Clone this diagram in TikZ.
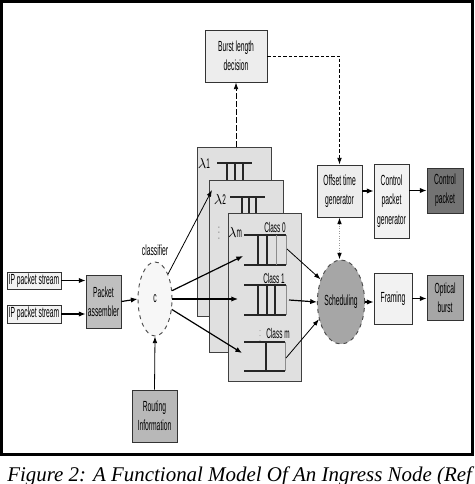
\documentclass[tikz,border=0pt]{standalone}
\usepackage{fontspec}
\setmainfont{Liberation Serif}
\newfontfamily\nar[FakeStretch=0.46]{Liberation Sans}
\usetikzlibrary{arrows.meta,shapes.geometric}
\begin{document}
\begin{tikzpicture}[x=0.75pt,y=-0.75pt,
  lbl/.style={font=\nar\fontsize{11}{14.5}\selectfont, align=center, inner sep=0pt},
  box/.style={lbl, draw=black!80, line width=0.7pt, rectangle},
  arr/.style={-{Latex[length=5pt,width=4pt]}, line width=0.9pt},
  thinarr/.style={-{Latex[length=5pt,width=3.5pt]}, line width=0.6pt},
  panel/.style={draw=black!75, fill=black!12, line width=0.7pt, inner sep=0pt},
  qline/.style={line width=0.8pt, black!85},
  qend/.style={line width=0.6pt, black!45},
  small/.style={font=\nar\fontsize{10.5}{12}\selectfont, inner sep=0pt},
]
\useasboundingbox (0,0) rectangle (474,484);
\draw[line width=2.25pt] (1.5,1.5) rectangle (472.5,454.5);

% top boxes
\node[box, fill=black!7, minimum width=46.5pt, minimum height=39pt] (burst) at (236,56) {Burst length\\decision};
\node[box, fill=black!7, minimum width=33.75pt, minimum height=39pt] (off) at (339.5,191) {Offset time\\generator};
\node[box, fill=black!5, minimum width=26.25pt, minimum height=55.5pt] (cpg) at (391.5,201) {Control\\packet\\generator};
\node[box, fill=black!55, minimum width=27pt, minimum height=33.75pt] (cp) at (445,190.5) {Control\\packet};

% scheduling, framing, optical burst
\node[lbl, ellipse, draw=black!70, dashed, fill=black!35, line width=0.7pt, minimum width=27pt, minimum height=63pt] (sched) at (341,302) {Scheduling};
\node[box, fill=black!5, minimum width=28.5pt, minimum height=38.25pt] (fr) at (393,298.5) {Framing};
\node[box, fill=black!35, minimum width=27pt, minimum height=33.75pt] (opt) at (445,297.5) {Optical\\burst};

% lambda 1 panel
\node[panel, minimum width=55.5pt, minimum height=126.75pt] (p1) at (234,231.5) {};
\node[small] (l1) at (204,163) {$\lambda$1};
\draw[qline] (217,163) -- (252,163);
\foreach \x in {227,235,243} \draw[qline] (\x,163) -- (\x,190);

% lambda 2 panel
\node[panel, minimum width=55.5pt, minimum height=129pt] (p2) at (246,266) {};
\node[small] (l2) at (220,199) {$\lambda$2};
\draw[qline] (230,197) -- (265,197);
\foreach \x in {242,249,256} \draw[qline] (\x,197) -- (\x,222);
\node[small, black!60] (vd) at (219,229) {$\vdots$};

% lambda m panel
\node[panel, minimum width=54.75pt, minimum height=126pt] (pm) at (264.5,297) {};
\node[small] (lm) at (235,232) {$\lambda$m};
\node[small] (c0) at (275,227) {Class 0};
\node[small] (c1) at (274,278) {Class 1};
\node[small] (cm) at (278,333) {Class m};
\node[small, black!50, font=\fontsize{6}{7}\selectfont] (vd2) at (260,332) {$\vdots$};
% class 0 queue
\draw[qline] (244,235) -- (286,235) (244,265) -- (286,265);
\foreach \x in {258,267} \draw[qline] (\x,235) -- (\x,265);
\draw[qend] (276,235) -- (276,265) (286,235) -- (286,265);
% class 1 queue
\draw[qline] (244,285) -- (286,285) (244,315) -- (286,315);
\foreach \x in {258,267,275} \draw[qline] (\x,285) -- (\x,315);
\draw[qend] (286,285) -- (286,315);
% class m queue
\draw[qline] (244,342) -- (285,342) (244,371) -- (285,371);
\draw[qline] (266,342) -- (266,371);
\draw[qend] (285,342) -- (285,371);

% input side
\node[box, fill=black!5, minimum width=40.5pt, minimum height=12.75pt] (ip1) at (34,280.5) {IP packet stream};
\node[box, fill=black!5, minimum width=40.5pt, minimum height=13.5pt] (ip2) at (34,314) {IP packet stream};
\node[box, fill=black!25, minimum width=26.25pt, minimum height=39.75pt] (asm) at (103.5,301.5) {Packet\\assembler};
\node[lbl, ellipse, draw=black!70, dashed, fill=black!3, line width=0.7pt, minimum width=25.5pt, minimum height=55.5pt] (cls) at (155,299) {c};
\node[lbl, above=4pt] (clsl) at (cls.north) {classifier};
\node[box, fill=black!28, minimum width=33.75pt, minimum height=39pt] (rout) at (154.5,416) {Routing\\Information};

% coordinates for queue ends
\coordinate (t2) at (212,190);
\coordinate (t0) at (243,256);
\coordinate (t1) at (238,299);
\coordinate (tm) at (242,353);
\coordinate (s0) at (287,249);
\coordinate (s1) at (289,300);
\coordinate (sm) at (286,358);

% connectors
\draw[arr] (ip1.east) -- (ip1.east -| asm.west);
\draw[arr] (ip2.east) -- (ip2.east -| asm.west);
\draw[arr] (asm.east) -- (cls.west);
\draw[thinarr] (rout.north) -- (cls.south);
\draw[thinarr] (cls) -- (t2);
\draw[arr] (cls) -- (t0);
\draw[arr] (cls.east) -- (t1);
\draw[arr] (cls) -- (tm);
\draw[thinarr] (s0) -- (sched.132);
\draw[arr] (s1) -- (sched.west);
\draw[thinarr] (sm) -- (sched.218);
\draw[arr] (sched.east) -- (sched.east -| fr.west);
\draw[arr] (fr.east) -- (fr.east -| opt.west);
\draw[arr] (off.east) -- (off.east -| cpg.west);
\draw[arr] (cp.west -| cpg.east) -- (cp.west);
\draw[{Latex[length=5pt,width=3.5pt,black]}-{Latex[length=5pt,width=3.5pt,black]}, black!40, densely dotted, line width=0.8pt] (off.south) -- (off.south |- sched.north);
\draw[thinarr, dash pattern=on 4pt off 2pt] (burst.south |- p1.north) -- (burst.south);
\draw[thinarr, dash pattern=on 2.5pt off 1.5pt] (burst.east) -| (off.north);

% caption
\node[anchor=base west, inner sep=0pt, font=\itshape\fontsize{15.7}{17}\selectfont] (cap) at (7,481) {Figure 2: A Functional Model Of An Ingress Node (Ref};
\end{tikzpicture}
\end{document}
